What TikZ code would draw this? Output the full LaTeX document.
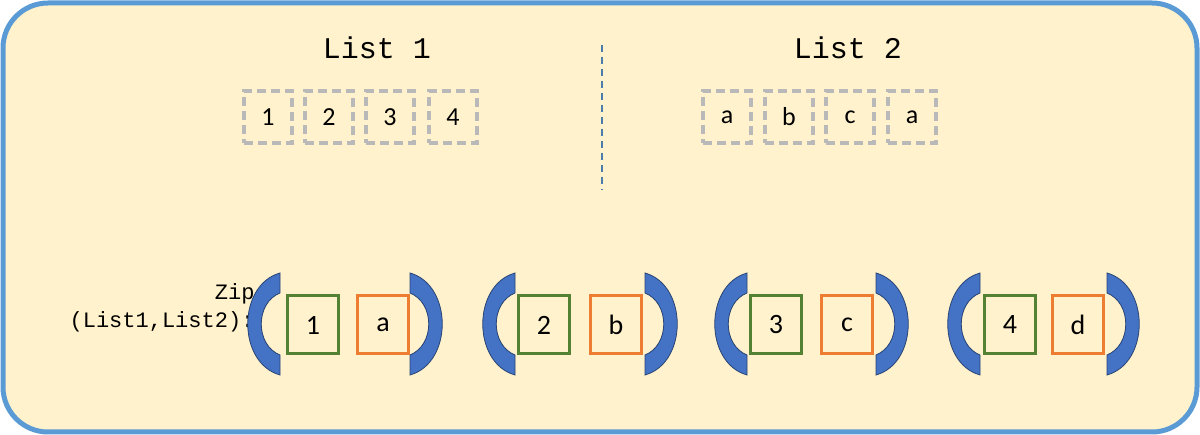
\documentclass[tikz,border=0pt]{standalone}
\usepackage{fontspec}
\setmainfont{Carlito}
\setmonofont{Liberation Mono}
\definecolor{bgc}{HTML}{FFF2CC}
\definecolor{frame}{HTML}{5B9BD5}
\definecolor{par}{HTML}{4472C4}
\definecolor{grn}{HTML}{548235}
\definecolor{org}{HTML}{ED7D31}
\tikzset{
 lbox/.style={draw=gray!55, dashed, dash pattern=on 9pt off 5pt, line width=3.5pt, minimum width=48pt, minimum height=52pt, font=\fontsize{26}{30}\selectfont, inner sep=0pt},
 gbox/.style={draw=grn, line width=3pt, minimum width=51pt, minimum height=58pt, font=\fontsize{28}{32}\selectfont, inner sep=0pt},
 obox/.style={gbox, draw=org},
 ttl/.style={font=\ttfamily\fontsize{30}{34}\selectfont},
 parl/.style={fill=par, draw=par!60!black, line width=0.8pt}
}
\newcommand{\lparen}[1]{\fill[parl] (#1+35,273) .. controls (#1-8,285) and (#1-8,363) .. (#1+35,375) -- (#1+35,355) .. controls (#1+10,345) and (#1+10,303) .. (#1+35,293) -- cycle;}
\newcommand{\rparen}[1]{\fill[parl] (#1,273) .. controls (#1+43,285) and (#1+43,363) .. (#1,375) -- (#1,355) .. controls (#1+25,345) and (#1+25,303) .. (#1,293) -- cycle;}
\begin{document}
\begin{tikzpicture}[x=1pt,y=-1pt]
\useasboundingbox (0,0) rectangle (1200,435);
\draw[frame, fill=bgc, line width=5pt, rounded corners=45pt] (3,3) rectangle (1197,432);
\node[ttl] (t1) at (377,48) {List 1};
\node[ttl] (t2) at (848,48) {List 2};
\coordinate (d1) at (602,45); \coordinate (d2) at (602,190);
\draw[frame!80!black, dashed, dash pattern=on 7pt off 5pt, line width=2pt] (d1) -- (d2);
\foreach \x/\t [count=\i] in {268/1,329/2,390/3,453/4}{\node[lbox] (a\i) at (\x,117) {\t};}
\foreach \x/\t [count=\i] in {727/a,789/b,850/c,912/a}{\node[lbox] (b\i) at (\x,117) {\t};}
\node[font=\ttfamily\fontsize{22}{28}\selectfont, align=right, anchor=east] (zip) at (258,308) {Zip\\(List1,List2):};
\foreach \l/\g/\o/\r/\gt/\ot [count=\i] in {245/313/383/410/1/a, 480/544/616/645/2/b, 712/776/847/876/3/c, 945/1010/1078/1107/4/d}{
  \lparen{\l}
  \rparen{\r}
  \node[gbox] (g\i) at (\g,325) {\gt};
  \node[obox] (o\i) at (\o,325) {\ot};
}
\end{tikzpicture}
\end{document}
